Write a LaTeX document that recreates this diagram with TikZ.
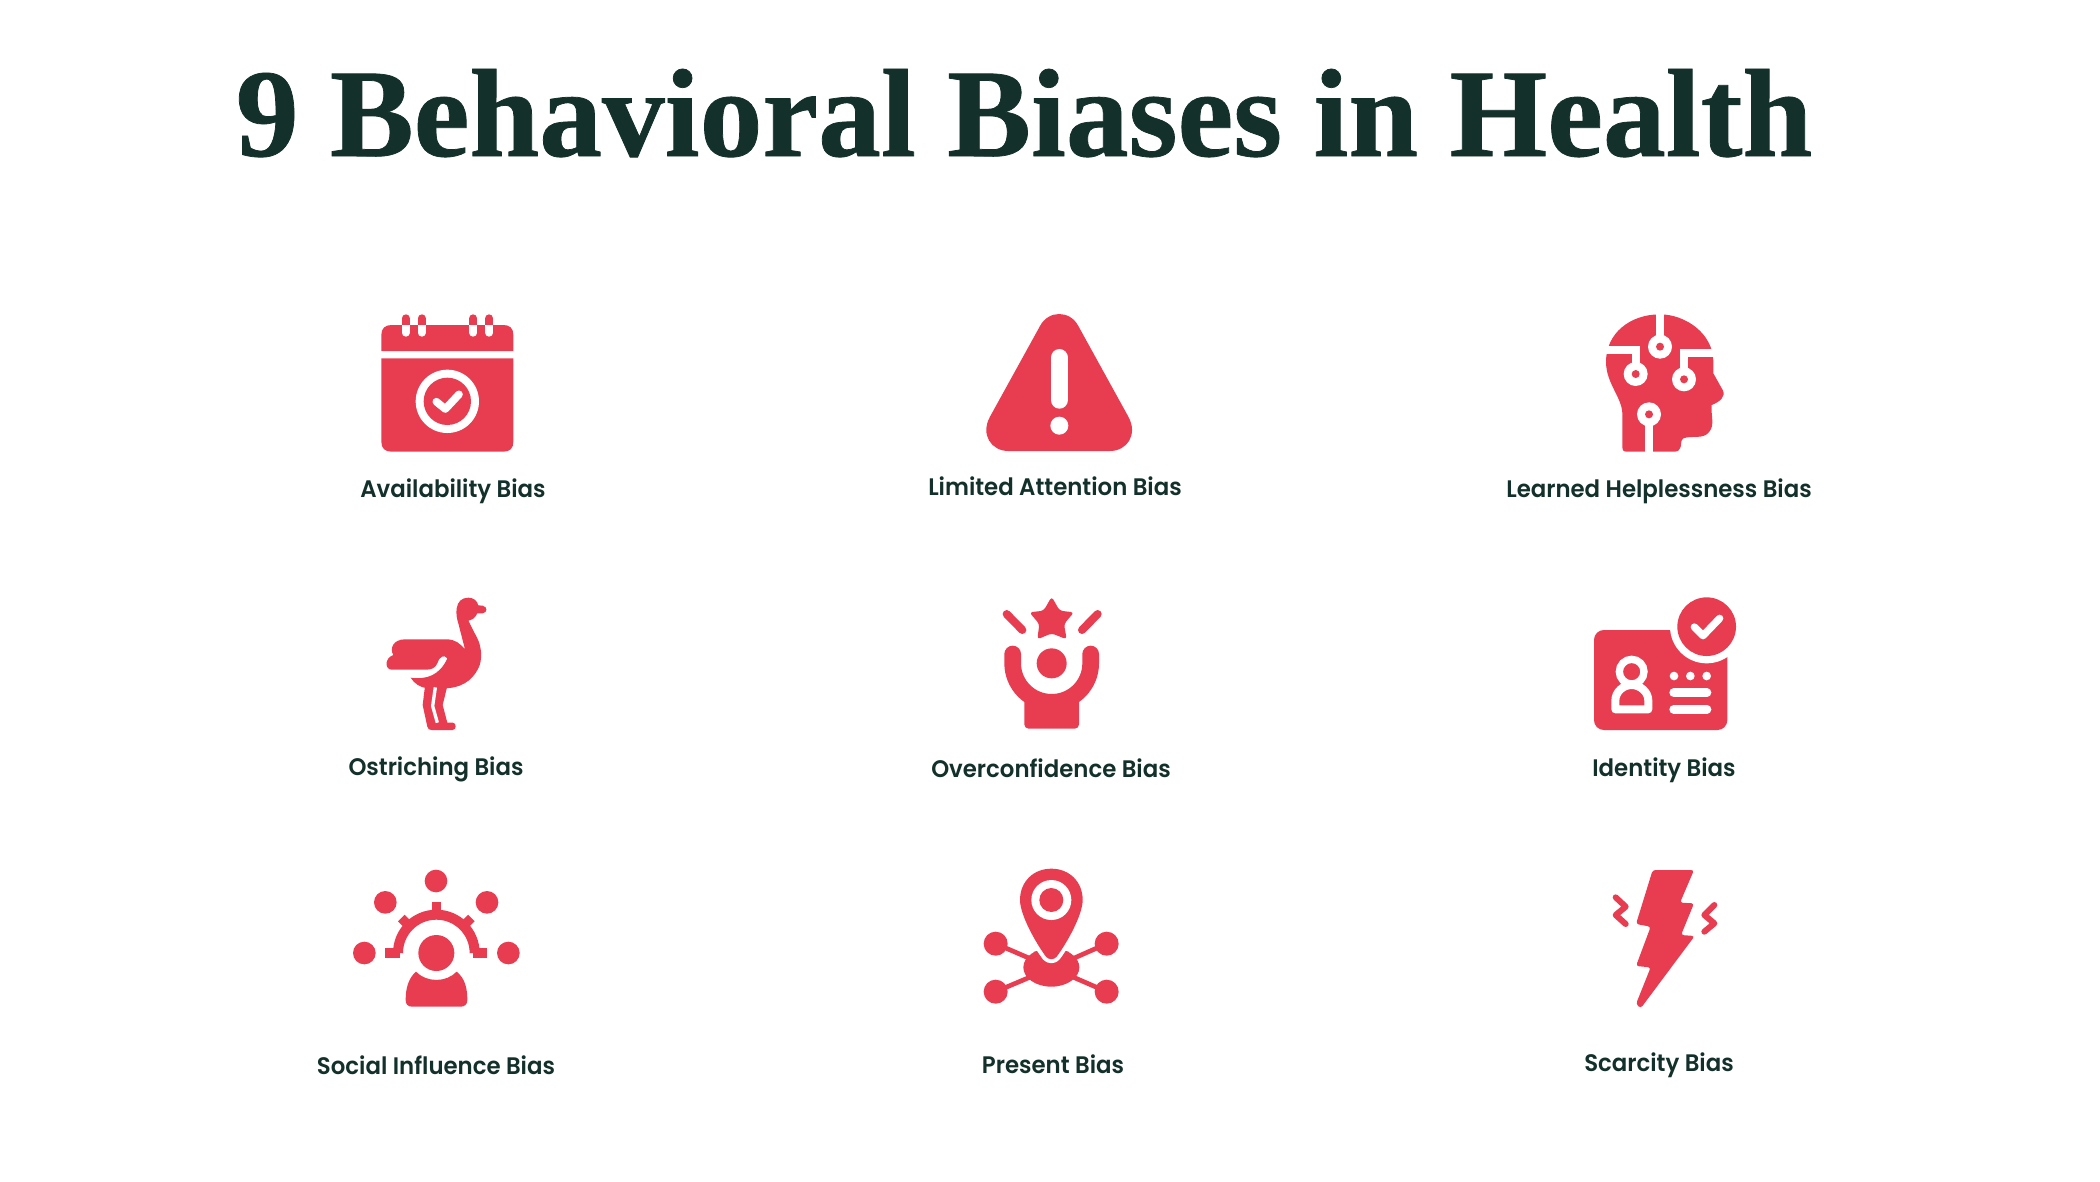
\documentclass[tikz,border=0pt]{standalone}
\usepackage{fontspec}
\setmainfont{Liberation Serif}
\newfontfamily\labfont{Poppins SemiBold}[FakeStretch=0.955]
\newfontfamily\titlefont{Liberation Serif Bold}[FakeBold=0.6]
\definecolor{bred}{HTML}{E83D50}
\definecolor{bdark}{HTML}{13302B}
\tikzset{
  zw/.style={line width=#1*0.09485pt},
  lab/.style={text=bdark,inner sep=0pt,font=\labfont\fontsize{6.8pt}{8pt}\selectfont,anchor=base},
  ic/.style={fill=bred,draw=none},
  wl/.style={draw=white,line cap=round,line join=round},
  rl/.style={draw=bred,line cap=round,line join=round},
}
\begin{document}
\begin{tikzpicture}[x=0.01cm,y=-0.01cm]
\useasboundingbox (0,0) rectangle (2100,1181);
\fill[white] (0,0) rectangle (2100,1181);
\node[inner sep=0pt,text=bdark,anchor=base] (title) at (1024,156) {\titlefont\fontsize{35.7pt}{40pt}\selectfont 9 Behavioral Biases in Health};
\node[lab] (l1) at (453,497) {Availability Bias};
\node[lab] (l2) at (1055,495.5) {Limited Attention Bias};
\node[lab] (l3) at (1659,497) {Learned Helplessness Bias};
\node[lab] (l4) at (436,775) {Ostriching Bias};
\node[lab] (l5) at (1051,777) {Overconfidence Bias};
\node[lab] (l6) at (1664,776) {Identity Bias};
\node[lab] (l7) at (436,1074) {Social Influence Bias};
\node[lab] (l8) at (1053,1073) {Present Bias};
\node[lab] (l9) at (1659,1071) {Scarcity Bias};

% calendar
\begin{scope}[shift={(340,290)},scale=1/3]
\fill[ic] (124,183) -- (124,135) .. controls (124,115) and (135,105) .. (155,105) -- (490,105) .. controls (510,105) and (520,115) .. (520,135) -- (520,183) -- cycle;
\fill[ic] (124,205) -- (520,205) -- (520,455) .. controls (520,475) and (510,485) .. (490,485) -- (155,485) .. controls (135,485) and (124,475) .. (124,455) -- cycle;
\foreach \x in {197,245,400,448}{
  \draw[wl,zw=24] (\x,105) -- (\x,128);
  \draw[draw=bred,zw=24,line cap=round] (\x,85) -- (\x,92);
  \fill[ic] (\x-12,85) rectangle (\x+12,105);
}
\fill[white] (322,334) circle[radius=95];
\fill[ic] (322,334) circle[radius=71];
\draw[wl,zw=23] (289,335) -- (316,357) -- (357,313);
\end{scope}

% triangle
\begin{scope}[shift={(960,290)},scale=1/3]
\fill[ic] (240,108) .. controls (265,60) and (330,60) .. (355,108) -- (505,380) .. controls (535,435) and (500,483) .. (450,483) -- (145,483) .. controls (95,483) and (60,435) .. (90,380) -- cycle;
\draw[wl,zw=52] (298,203) -- (298,330);
\fill[white] (298,407) circle[radius=27];
\end{scope}

% head
\begin{scope}[shift={(1570,290)},scale=1/3]
\fill[ic] (170,485) .. controls (160,485) and (157,480) .. (157,470) -- (157,370) .. controls (155,320) and (108,280) .. (108,215) .. controls (108,130) and (180,73) .. (270,73) .. controls (345,73) and (430,130) .. (430,215) -- (430,250) -- (458,300) .. controls (468,320) and (450,335) .. (425,345) .. controls (422,375) and (435,405) .. (418,425) .. controls (400,450) and (365,435) .. (340,445) .. controls (330,450) and (335,470) .. (330,475) .. controls (328,482) and (322,485) .. (315,485) -- cycle;
\draw[draw=white,zw=23] (270,60) -- (270,170);
\draw[draw=white,zw=23,line join=miter] (100,180) -- (197,180) -- (197,252);
\draw[draw=white,zw=23,line join=miter] (440,188) -- (342,188) -- (342,268);
\draw[draw=white,zw=23] (237,495) -- (237,373);
\foreach \a/\b in {270/170,197/252,342/268,237/373}{
  \fill[white] (\a,\b) circle[radius=36];
  \fill[ic] (\a,\b) circle[radius=12];
}
\end{scope}

% ostrich
\begin{scope}[shift={(340,580)},scale=1/3]
\fill[ic] (255,318) -- (248,375) -- (262,440) .. controls (264,448) and (268,450) .. (275,450) -- (338,450) .. controls (350,450) and (350,428) .. (338,428) -- (322,428) -- (308,375) -- (322,318) -- cycle;
\fill[ic] (385,53) .. controls (400,53) and (412,62) .. (415,76) -- (428,77) .. controls (443,80) and (443,98) .. (428,100) -- (412,100) .. controls (405,115) and (395,120) .. (385,122) -- (412,175) .. controls (425,200) and (428,240) .. (415,265) .. controls (395,305) and (360,325) .. (310,325) -- (262,325) .. controls (240,322) and (222,310) .. (212,293) .. controls (260,300) and (300,285) .. (322,235) .. controls (312,222) and (298,230) .. (292,250) .. controls (285,265) and (275,268) .. (260,269) -- (155,269) .. controls (135,269) and (132,235) .. (160,225) .. controls (148,205) and (160,178) .. (195,178) -- (320,178) .. controls (345,178) and (360,190) .. (375,208) -- (355,130) .. controls (350,115) and (348,100) .. (350,85) .. controls (353,65) and (365,53) .. (385,53) -- cycle;
\draw[draw=white,zw=10] (286,322) -- (278,378) -- (292,428);
\end{scope}

% overconfidence
\begin{scope}[shift={(960,580)},scale=1/3]
\fill[ic,rounded corners=0.9pt] (275,50) -- (299,92) -- (342,97) -- (312,132) -- (320,178) -- (275,160) -- (232,178) -- (238,132) -- (208,97) -- (251,92) -- cycle;
\draw[rl,zw=24] (140,102) -- (187,150);
\draw[rl,zw=24] (413,102) -- (366,150);
\fill[ic] (275,250) circle[radius=45];
\draw[rl,zw=50] (158,222) -- (158,250) arc[start angle=180,end angle=0,radius=117] -- (392,222);
\fill[ic,rounded corners=1.2pt] (193,352) -- (357,352) -- (357,446) -- (193,446) -- cycle;
\end{scope}

% identity
\begin{scope}[shift={(1570,580)},scale=1/3]
\fill[ic,rounded corners=2.8pt] (72,150) rectangle (472,450);
\fill[white] (410,140) circle[radius=110];
\fill[ic] (410,140) circle[radius=88];
\draw[wl,zw=22] (373,141) -- (399,167) -- (449,115);
\draw[draw=white,zw=22] (185,275) circle[radius=37];
\draw[wl,zw=24] (136,388) -- (136,362) .. controls (136,335) and (160,315) .. (185,315) .. controls (210,315) and (235,335) .. (235,362) -- (235,388) -- cycle;
\foreach \x in {312,361,410}{\fill[white] (\x,288) circle[radius=13];}
\draw[wl,zw=26] (311,338) -- (411,338);
\draw[wl,zw=26] (311,388) -- (411,388);
\end{scope}

% social
\begin{scope}[shift={(340,860)},scale=1/3]
\foreach \a/\b in {288/63,136/127,441/127,73/279,505/279}{\fill[ic] (\a,\b) circle[radius=34];}
\fill[ic] (289,279) circle[radius=54];
\fill[ic] (228,335) .. controls (260,368) and (318,368) .. (350,335) .. controls (375,355) and (382,385) .. (382,420) .. controls (382,432) and (375,440) .. (362,440) -- (216,440) .. controls (203,440) and (197,432) .. (197,420) .. controls (197,385) and (205,355) .. (228,335) -- cycle;
\draw[draw=bred,zw=30] (174,279) arc[start angle=180,end angle=360,radius=115];
\draw[draw=bred,zw=28] (136,279) -- (180,279);
\draw[draw=bred,zw=28] (442,279) -- (398,279);
\draw[draw=bred,zw=28] (289,127) -- (289,160);
\draw[draw=bred,zw=28] (184,174) -- (208,198);
\draw[draw=bred,zw=28] (394,174) -- (370,198);
\end{scope}

% present
\begin{scope}[shift={(960,860)},scale=1/3]
\foreach \a/\b in {107/251,440/251,107/395,440/395}{\fill[ic] (\a,\b) circle[radius=36];}
\draw[draw=bred,zw=14] (107,251) -- (225,302);
\draw[draw=bred,zw=14] (440,251) -- (325,302);
\draw[draw=bred,zw=14] (107,395) -- (225,345);
\draw[draw=bred,zw=14] (440,395) -- (325,345);
\fill[ic] (274,322) ellipse[x radius=84,y radius=58];
\fill[ic] (222,275) -- (326,275) -- (345,322) -- (203,322) -- cycle;
\path[fill=bred,draw=white,zw=24,line join=round] (180,120) .. controls (180,65) and (220,26) .. (274,26) .. controls (328,26) and (368,65) .. (368,120) .. controls (368,165) and (320,250) .. (290,290) .. controls (282,300) and (266,300) .. (258,290) .. controls (228,250) and (180,165) .. (180,120) -- cycle;
\fill[ic] (180,120) .. controls (180,65) and (220,26) .. (274,26) .. controls (328,26) and (368,65) .. (368,120) .. controls (368,165) and (320,250) .. (290,290) .. controls (282,300) and (266,300) .. (258,290) .. controls (228,250) and (180,165) .. (180,120) -- cycle;
\fill[white] (274,120) circle[radius=60];
\fill[ic] (274,120) circle[radius=36];
\end{scope}

% bolt
\begin{scope}[shift={(1570,860)},scale=1/3]
\fill[ic,rounded corners=0.8pt] (248,30) -- (372,30) -- (330,128) -- (372,130) -- (333,225) -- (374,228) -- (212,445) -- (198,432) -- (242,322) -- (198,318) -- (242,200) -- (198,192) -- cycle;
\draw[rl,zw=18] (137,112) -- (167,140) -- (137,165) -- (167,192);
\draw[rl,zw=18] (433,135) -- (403,165) -- (433,190) -- (403,215);
\end{scope}
\end{tikzpicture}
\end{document}
